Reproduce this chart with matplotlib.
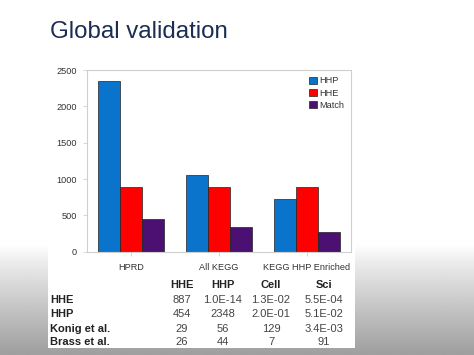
import numpy as np
import matplotlib
matplotlib.use("Agg")
import matplotlib.pyplot as plt
from matplotlib.patches import Rectangle

categories = ["HPRD", "All KEGG", "KEGG HHP Enriched"]
series_names = ["HHP", "HHE", "Match"]
hhp = [2348, 1050, 725]
hhe = [887, 887, 890]
match = [454, 345, 267]
colors = ["#0a74cc", "#ff0000", "#4c0f72"]

table_cols = ["HHE", "HHP", "Cell", "Sci"]
table_rows = ["HHE", "HHP", "Konig et al.", "Brass et al."]
table_vals = [
    ["887", "1.0E-14", "1.3E-02", "5.5E-04"],
    ["454", "2348", "2.0E-01", "5.1E-02"],
    ["29", "56", "129", "3.4E-03"],
    ["26", "44", "7", "91"],
]

plt.rcParams['font.family'] = ['Liberation Sans', 'DejaVu Sans']

W, H = 474, 355
fig = plt.figure(figsize=(W / 100, H / 100), dpi=100)

# background with gray gradient at the bottom
bg = fig.add_axes([0, 0, 1, 1])
bg.set_xlim(0, W)
bg.set_ylim(H, 0)
bg.axis("off")
grad = np.ones((H, 1))
ys = np.arange(H)
start = 245
t = np.clip((ys - start) / (H - start), 0, 1)
grad[:, 0] = 1.0 - 0.38 * t ** 0.9
grad[ys < start, 0] = 1.0
bg.imshow(np.repeat(grad, 2, axis=1), cmap="gray", vmin=0, vmax=1,
          extent=[0, W, H, 0], aspect="auto", interpolation="bilinear")
bg.add_patch(Rectangle((48, 55), 307, 293, facecolor="white", edgecolor="none"))

# title
bg.text(50, 32, "Global validation", fontsize=17.3, color="#1b2d52",
        va="center", ha="left")

# chart axes
left, right, top, bottom = 86.7, 350.7, 70, 251.7
ax = fig.add_axes([left / W, 1 - bottom / H, (right - left) / W, (bottom - top) / H])
x = np.arange(len(categories)) + 0.5
bw = 0.25
for i, (vals, name) in enumerate(zip([hhp, hhe, match], series_names)):
    ax.bar(x + (i - 1) * bw, vals, bw, color=colors[i], edgecolor="#222222",
           linewidth=0.5, label=name)
ax.set_xlim(0, 3)
ax.set_ylim(0, 2500)
ax.set_yticks([0, 500, 1000, 1500, 2000, 2500])
ax.set_xticks(x)
ax.set_xticklabels(categories)
for s in ax.spines.values():
    s.set_color("#cfcfcf")
    s.set_linewidth(0.8)
ax.tick_params(axis="both", labelsize=6.6, colors="#cfcfcf", labelcolor="#333333",
               length=3, width=0.6, pad=4)
ax.tick_params(axis="x", pad=5)
leg = ax.legend(loc="upper right", fontsize=6.6, frameon=False, handlelength=0.8,
                handleheight=0.8, handletextpad=0.3, labelspacing=0.35,
                borderaxespad=0.3)
for t_ in leg.get_texts():
    t_.set_color("#333333")

# table
col_x = [182, 223, 271, 324]
row_y = [300, 314, 328.5, 342]
header_y = 285.5
for cx, c in zip(col_x, table_cols):
    bg.text(cx, header_y, c, fontsize=8, fontweight="bold", ha="center",
            va="center", color="#222222")
for ry, rname, rv in zip(row_y, table_rows, table_vals):
    bg.text(50, ry, rname, fontsize=8, fontweight="bold", ha="left",
            va="center", color="#222222")
    for cx, v in zip(col_x, rv):
        bg.text(cx, ry, v, fontsize=8, ha="center", va="center", color="#444444")

fig.savefig("out.png", dpi=100)
